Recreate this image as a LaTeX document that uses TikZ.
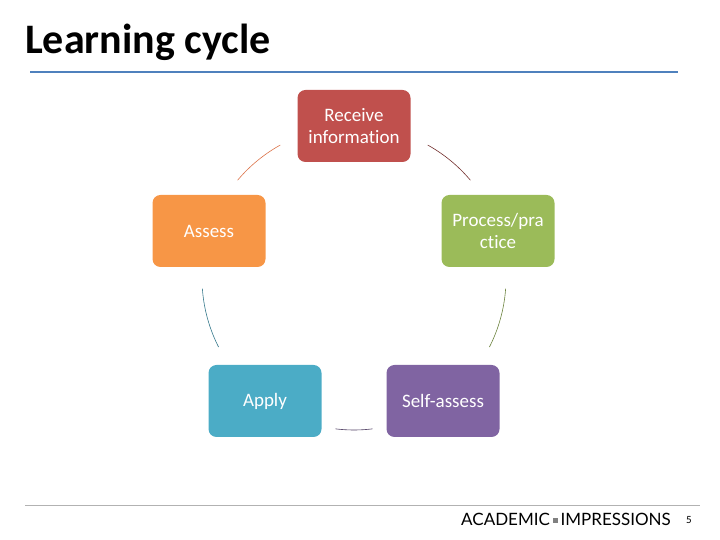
\documentclass[tikz,border=0pt]{standalone}
\usepackage{fontspec}
\setmainfont{Carlito}[Ligatures=NoCommon]
\newfontfamily\logofont{Lato}
\definecolor{cred}{HTML}{C0504D}
\definecolor{corange}{HTML}{F79646}
\definecolor{cgreen}{HTML}{9BBB59}
\definecolor{cblue}{HTML}{4BACC6}
\definecolor{cpurple}{HTML}{8064A2}
\definecolor{titleline}{HTML}{4F81BD}
\begin{document}
\begin{tikzpicture}[x=1pt,y=1pt,
  box/.style={rounded corners=8pt,minimum width=113pt,minimum height=72pt,inner sep=2pt,text=white,font=\fontsize{19}{22}\selectfont,align=center,text width=108pt},
  link/.style={line width=0.6pt}]
\useasboundingbox (0,0) rectangle (720,540);
\node[anchor=base west,inner sep=0pt,font=\fontsize{42}{46}\selectfont\bfseries] (title) at (25,486) {Learning cycle};
\draw[titleline,line width=2.5pt] (30,468) -- (678,468);
\node[box,fill=cred] (r) at (354,414) {Receive\\information};
\node[box,fill=corange] (a) at (209,309) {Assess};
\node[box,fill=cgreen] (p) at (498,309) {Process/pra\\ctice};
\node[box,fill=cblue] (ap) at (265,139) {Apply};
\node[box,fill=cpurple] (s) at (443,139) {Self-assess};
\coordinate (c) at (354,262);
\draw[link,cred!50!corange] ([shift={(119:152)}]c) arc (119:140:152);
\draw[link,cred!60!black] ([shift={(61:152)}]c) arc (61:40:152);
\draw[link,cgreen!70!black] ([shift={(-4:152)}]c) arc (-4:-27:152);
\draw[link,cpurple!60!black] ([shift={(-83:152)}]c) arc (-83:-97:152);
\draw[link,cblue!70!black] ([shift={(-153:152)}]c) arc (-153:-176:152);
\draw[gray!60,line width=0.8pt] (25,35) -- (700,35);
\node[anchor=base,font=\logofont\fontsize{17}{20}\selectfont] (logo) at (566,14) {ACADEMIC\,{\color{gray}\rule[3pt]{5pt}{5pt}}\,IMPRESSIONS};
\node[anchor=base,font=\fontsize{11}{12}\selectfont] (pg) at (689,16) {5};
\end{tikzpicture}
\end{document}
